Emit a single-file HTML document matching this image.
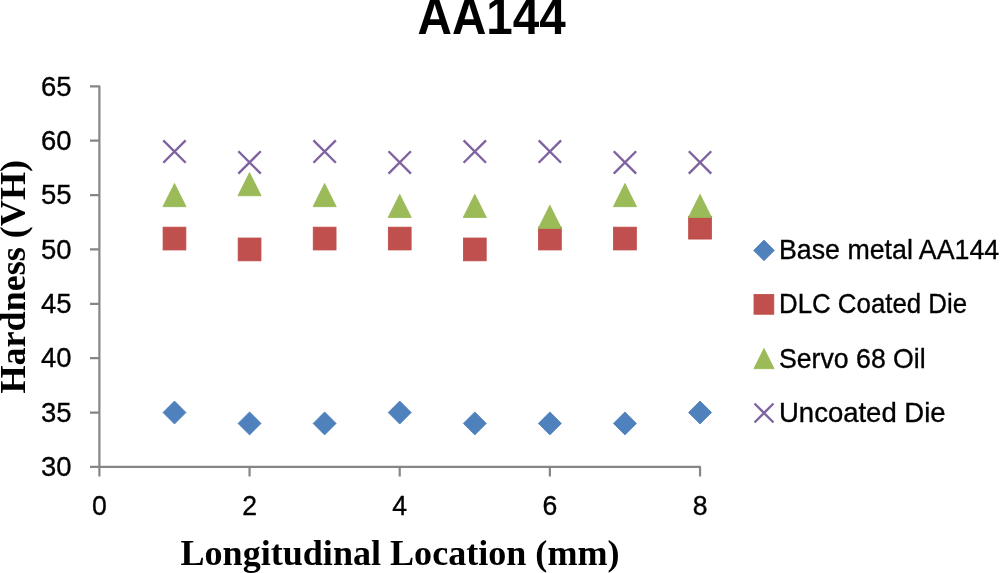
<!DOCTYPE html>
<html><head><meta charset="utf-8"><title>AA144</title>
<style>
html,body{margin:0;padding:0;background:#fff;}
body{width:1000px;height:573px;overflow:hidden;}
svg{display:block;}
.tk{font-family:"Liberation Sans",Arial,sans-serif;font-size:27.8px;fill:#000;stroke:#000;stroke-width:0.35px;}
.lg{font-family:"Liberation Sans",Arial,sans-serif;font-size:28px;fill:#000;stroke:#000;stroke-width:0.35px;}
.ti{font-family:"Liberation Sans",Arial,sans-serif;font-size:51px;font-weight:bold;fill:#000;}
.at{font-family:"Liberation Serif","Times New Roman",serif;font-size:36.1px;font-weight:bold;fill:#000;}
</style></head>
<body>
<svg width="1000" height="573" viewBox="0 0 1000 573">
<path d="M90,86.31 H99.4 V466.9 H700.04 V476.4" fill="none" stroke="#868686" stroke-width="2.2" stroke-linejoin="round"/>
<path d="M90,466.90 H99.4 M90,412.53 H99.4 M90,358.16 H99.4 M90,303.79 H99.4 M90,249.42 H99.4 M90,195.05 H99.4 M90,140.68 H99.4 M99.40,466.9 V476.4 M249.56,466.9 V476.4 M399.72,466.9 V476.4 M549.88,466.9 V476.4" fill="none" stroke="#868686" stroke-width="2.2"/>
<text class="tk" x="71.6" y="476.20" text-anchor="end" textLength="30.5" lengthAdjust="spacingAndGlyphs">30</text>
<text class="tk" x="71.6" y="421.83" text-anchor="end" textLength="30.5" lengthAdjust="spacingAndGlyphs">35</text>
<text class="tk" x="71.6" y="367.46" text-anchor="end" textLength="30.5" lengthAdjust="spacingAndGlyphs">40</text>
<text class="tk" x="71.6" y="313.09" text-anchor="end" textLength="30.5" lengthAdjust="spacingAndGlyphs">45</text>
<text class="tk" x="71.6" y="258.72" text-anchor="end" textLength="30.5" lengthAdjust="spacingAndGlyphs">50</text>
<text class="tk" x="71.6" y="204.35" text-anchor="end" textLength="30.5" lengthAdjust="spacingAndGlyphs">55</text>
<text class="tk" x="71.6" y="149.98" text-anchor="end" textLength="30.5" lengthAdjust="spacingAndGlyphs">60</text>
<text class="tk" x="71.6" y="95.61" text-anchor="end" textLength="30.5" lengthAdjust="spacingAndGlyphs">65</text>
<text class="tk" x="99.40" y="514.8" text-anchor="middle" textLength="14.8" lengthAdjust="spacingAndGlyphs">0</text>
<text class="tk" x="249.56" y="514.8" text-anchor="middle" textLength="14.8" lengthAdjust="spacingAndGlyphs">2</text>
<text class="tk" x="399.72" y="514.8" text-anchor="middle" textLength="14.8" lengthAdjust="spacingAndGlyphs">4</text>
<text class="tk" x="549.88" y="514.8" text-anchor="middle" textLength="14.8" lengthAdjust="spacingAndGlyphs">6</text>
<text class="tk" x="700.04" y="514.8" text-anchor="middle" textLength="14.8" lengthAdjust="spacingAndGlyphs">8</text>
<path d="M174.48,401.03 L185.98,412.53 L174.48,424.03 L162.98,412.53 Z" fill="#4F81BD" stroke="#4A7EBB" stroke-width="0.8" stroke-linejoin="round"/>
<rect x="163.08" y="227.15" width="22.80" height="22.80" fill="#C0504D" stroke="#BE4B48" stroke-width="0.8"/>
<path d="M174.48,183.45 L186.08,206.65 L162.88,206.65 Z" fill="#9BBB59" stroke="#98B954" stroke-width="0.8" stroke-linejoin="round"/>
<path d="M163.28,140.35 L185.68,162.75 M185.68,140.35 L163.28,162.75" stroke="#7F63A1" stroke-width="2.4" fill="none"/>
<path d="M249.56,411.90 L261.06,423.40 L249.56,434.90 L238.06,423.40 Z" fill="#4F81BD" stroke="#4A7EBB" stroke-width="0.8" stroke-linejoin="round"/>
<rect x="238.16" y="238.02" width="22.80" height="22.80" fill="#C0504D" stroke="#BE4B48" stroke-width="0.8"/>
<path d="M249.56,172.58 L261.16,195.78 L237.96,195.78 Z" fill="#9BBB59" stroke="#98B954" stroke-width="0.8" stroke-linejoin="round"/>
<path d="M238.36,151.23 L260.76,173.63 M260.76,151.23 L238.36,173.63" stroke="#7F63A1" stroke-width="2.4" fill="none"/>
<path d="M324.64,411.90 L336.14,423.40 L324.64,434.90 L313.14,423.40 Z" fill="#4F81BD" stroke="#4A7EBB" stroke-width="0.8" stroke-linejoin="round"/>
<rect x="313.24" y="227.15" width="22.80" height="22.80" fill="#C0504D" stroke="#BE4B48" stroke-width="0.8"/>
<path d="M324.64,183.45 L336.24,206.65 L313.04,206.65 Z" fill="#9BBB59" stroke="#98B954" stroke-width="0.8" stroke-linejoin="round"/>
<path d="M313.44,140.35 L335.84,162.75 M335.84,140.35 L313.44,162.75" stroke="#7F63A1" stroke-width="2.4" fill="none"/>
<path d="M399.72,401.03 L411.22,412.53 L399.72,424.03 L388.22,412.53 Z" fill="#4F81BD" stroke="#4A7EBB" stroke-width="0.8" stroke-linejoin="round"/>
<rect x="388.32" y="227.15" width="22.80" height="22.80" fill="#C0504D" stroke="#BE4B48" stroke-width="0.8"/>
<path d="M399.72,194.32 L411.32,217.52 L388.12,217.52 Z" fill="#9BBB59" stroke="#98B954" stroke-width="0.8" stroke-linejoin="round"/>
<path d="M388.52,151.23 L410.92,173.63 M410.92,151.23 L388.52,173.63" stroke="#7F63A1" stroke-width="2.4" fill="none"/>
<path d="M474.80,411.90 L486.30,423.40 L474.80,434.90 L463.30,423.40 Z" fill="#4F81BD" stroke="#4A7EBB" stroke-width="0.8" stroke-linejoin="round"/>
<rect x="463.40" y="238.02" width="22.80" height="22.80" fill="#C0504D" stroke="#BE4B48" stroke-width="0.8"/>
<path d="M474.80,194.32 L486.40,217.52 L463.20,217.52 Z" fill="#9BBB59" stroke="#98B954" stroke-width="0.8" stroke-linejoin="round"/>
<path d="M463.60,140.35 L486.00,162.75 M486.00,140.35 L463.60,162.75" stroke="#7F63A1" stroke-width="2.4" fill="none"/>
<path d="M549.88,411.90 L561.38,423.40 L549.88,434.90 L538.38,423.40 Z" fill="#4F81BD" stroke="#4A7EBB" stroke-width="0.8" stroke-linejoin="round"/>
<rect x="538.48" y="227.15" width="22.80" height="22.80" fill="#C0504D" stroke="#BE4B48" stroke-width="0.8"/>
<path d="M549.88,205.20 L561.48,228.40 L538.28,228.40 Z" fill="#9BBB59" stroke="#98B954" stroke-width="0.8" stroke-linejoin="round"/>
<path d="M538.68,140.35 L561.08,162.75 M561.08,140.35 L538.68,162.75" stroke="#7F63A1" stroke-width="2.4" fill="none"/>
<path d="M624.96,411.90 L636.46,423.40 L624.96,434.90 L613.46,423.40 Z" fill="#4F81BD" stroke="#4A7EBB" stroke-width="0.8" stroke-linejoin="round"/>
<rect x="613.56" y="227.15" width="22.80" height="22.80" fill="#C0504D" stroke="#BE4B48" stroke-width="0.8"/>
<path d="M624.96,183.45 L636.56,206.65 L613.36,206.65 Z" fill="#9BBB59" stroke="#98B954" stroke-width="0.8" stroke-linejoin="round"/>
<path d="M613.76,151.23 L636.16,173.63 M636.16,151.23 L613.76,173.63" stroke="#7F63A1" stroke-width="2.4" fill="none"/>
<path d="M700.04,401.03 L711.54,412.53 L700.04,424.03 L688.54,412.53 Z" fill="#4F81BD" stroke="#4A7EBB" stroke-width="0.8" stroke-linejoin="round"/>
<rect x="688.64" y="216.27" width="22.80" height="22.80" fill="#C0504D" stroke="#BE4B48" stroke-width="0.8"/>
<path d="M700.04,194.32 L711.64,217.52 L688.44,217.52 Z" fill="#9BBB59" stroke="#98B954" stroke-width="0.8" stroke-linejoin="round"/>
<path d="M688.84,151.23 L711.24,173.63 M711.24,151.23 L688.84,173.63" stroke="#7F63A1" stroke-width="2.4" fill="none"/>
<path d="M764.00,240.10 L774.30,250.40 L764.00,260.70 L753.70,250.40 Z" fill="#4F81BD" stroke="#4A7EBB" stroke-width="0.8" stroke-linejoin="round"/>
<rect x="754.00" y="294.45" width="19.80" height="19.80" fill="#C0504D" stroke="#BE4B48" stroke-width="0.8"/>
<path d="M764.00,348.50 L774.10,368.70 L753.90,368.70 Z" fill="#9BBB59" stroke="#98B954" stroke-width="0.8" stroke-linejoin="round"/>
<path d="M754.50,403.50 L773.50,422.50 M773.50,403.50 L754.50,422.50" stroke="#7F63A1" stroke-width="2.3" fill="none"/>
<text class="lg" x="779" y="258.9" textLength="220.2" lengthAdjust="spacingAndGlyphs">Base metal AA144</text>
<text class="lg" x="779" y="313.3" textLength="188.1" lengthAdjust="spacingAndGlyphs">DLC Coated Die</text>
<text class="lg" x="779" y="367.6" textLength="146.7" lengthAdjust="spacingAndGlyphs">Servo 68 Oil</text>
<text class="lg" x="779" y="421.9" textLength="166.6" lengthAdjust="spacingAndGlyphs">Uncoated Die</text>
<text class="ti" x="491.7" y="34.2" text-anchor="middle" textLength="148.2" lengthAdjust="spacingAndGlyphs">AA144</text>
<text class="at" x="400.0" y="565" text-anchor="middle">Longitudinal Location (mm)</text>
<text class="at" transform="translate(24.6,276.8) rotate(-90)" x="0" y="0" text-anchor="middle">Hardness (VH)</text>
</svg>
</body></html>
